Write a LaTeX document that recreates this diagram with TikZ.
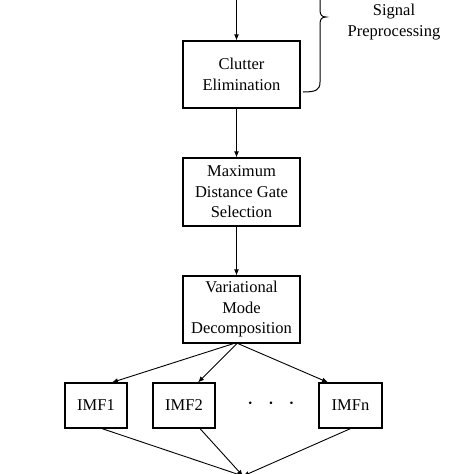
\documentclass[tikz,border=0pt]{standalone}
\usepackage{fontspec}
\setmainfont{Liberation Serif}
\usetikzlibrary{arrows.meta}
\begin{document}
\begin{tikzpicture}[x=1pt,y=-1pt,
  font=\fontsize{16.5}{20.5}\selectfont,
  procbox/.style={draw,line width=1.2pt,align=center,inner sep=0pt,minimum width=117pt,minimum height=67pt},
  imfbox/.style={draw,line width=1.2pt,align=center,inner sep=0pt,minimum width=62pt,minimum height=45pt},
  conn/.style={line width=0.9pt,-{Latex[length=6pt,width=5pt]}}]
\useasboundingbox (0,0) rectangle (474,474);
\clip (0,0) rectangle (474,474);
\node[procbox] (ce) at (241.5,74.5) {Clutter\\Elimination};
\node[procbox,minimum height=68pt] (md) at (241.5,192) {Maximum\\Distance Gate\\Selection};
\node[procbox] (vmd) at (241.5,309.5) {Variational\\Mode\\Decomposition};
\node[imfbox] (imf1) at (96,405.5) {IMF1};
\node[imfbox] (imf2) at (184,405.5) {IMF2};
\node[imfbox,minimum width=63pt] (imfn) at (350.5,405.5) {IMFn};
\node[font=\fontsize{24}{24}\selectfont] (dots) at (271,404) {$\cdot\,\,\cdot\,\,\cdot$};
\node[align=center] (sp) at (394,22) {Signal\\Preprocessing};
\coordinate (in) at (236.5,-5);
\coordinate (out) at (243,476);
\draw[conn] (in) -- ([xshift=-5pt]ce.north);
\draw[conn] ([xshift=-5pt]ce.south) -- ([xshift=-5pt]md.north);
\draw[conn] ([xshift=-5pt]md.south) -- ([xshift=-5pt]vmd.north);
\draw[conn] ([xshift=-8pt]vmd.south) -- ([xshift=16pt]imf1.north);
\draw[conn] ([xshift=-4.5pt]vmd.south) -- ([xshift=14pt]imf2.north);
\draw[conn] ([xshift=-3.5pt]vmd.south) -- ([xshift=-22.5pt]imfn.north);
\draw[conn] ([xshift=6pt]imf1.south) -- (out);
\draw[conn] ([xshift=16pt]imf2.south) -- (out);
\draw[conn] ([xshift=0pt]imfn.south) -- (out);
% brace
\draw[line width=1pt] (303,92) .. controls (316,92) and (320,90) .. (320,82)
  -- (320,24) .. controls (320,19) and (322,17) .. (326,17)
  .. controls (322,17) and (320,15) .. (320,10) -- (320,-60);
\end{tikzpicture}
\end{document}
